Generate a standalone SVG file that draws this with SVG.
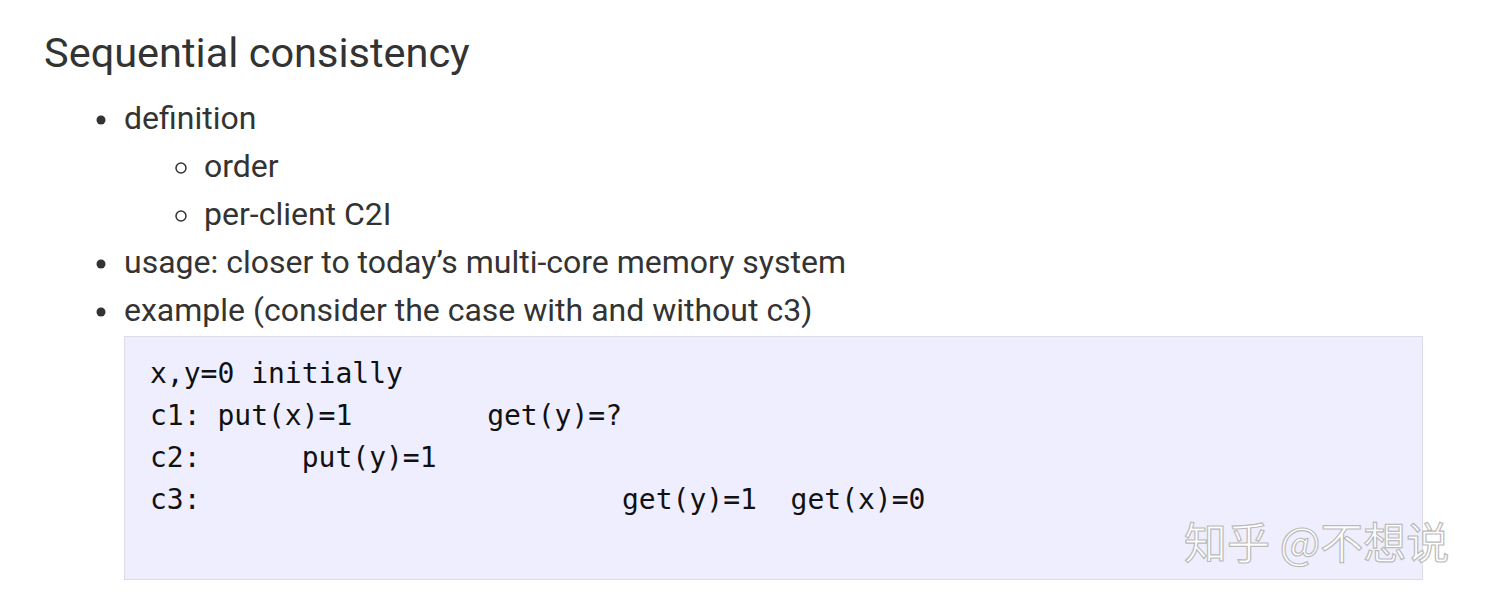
<svg xmlns="http://www.w3.org/2000/svg" width="1502" height="604" viewBox="0 0 1502 604">
<style>
.t{font-family:Roboto,"Liberation Sans",sans-serif;fill:#333}
.b{font-size:32px}
.m{font-family:"DejaVu Sans Mono","Liberation Mono",monospace;font-size:28px;fill:#111;white-space:pre}
</style>
<rect width="1502" height="604" fill="#fff"/>
<text class="t" x="44" y="67" font-size="41.5">Sequential consistency</text>
<circle cx="101" cy="120" r="4.5" fill="#333"/>
<text class="t b" x="124" y="129">definition</text>
<circle cx="181" cy="168" r="5" fill="none" stroke="#333" stroke-width="1.5"/>
<text class="t b" x="204" y="177">order</text>
<circle cx="181" cy="216" r="5" fill="none" stroke="#333" stroke-width="1.5"/>
<text class="t b" x="204" y="225">per-client C2I</text>
<circle cx="101" cy="264" r="4.5" fill="#333"/>
<text class="t b" x="124" y="273">usage: closer to today’s multi-core memory system</text>
<circle cx="101" cy="312" r="4.5" fill="#333"/>
<text class="t b" x="124" y="321">example (consider the case with and without c3)</text>
<rect x="124.5" y="336.5" width="1298" height="243" fill="#eeeeff" stroke="#dcdce6"/>
<text class="m" x="150" y="383" xml:space="preserve">x,y=0 initially</text>
<text class="m" x="150" y="425" xml:space="preserve">c1: put(x)=1        get(y)=?</text>
<text class="m" x="150" y="467" xml:space="preserve">c2:      put(y)=1</text>
<text class="m" x="150" y="509" xml:space="preserve">c3:                         get(y)=1  get(x)=0</text>
<text x="1184" y="559" font-family="Noto Sans CJK SC,sans-serif" font-size="43" fill="#fff" stroke="#bbb" stroke-width="1.2">知乎 @不想说</text>
</svg>
